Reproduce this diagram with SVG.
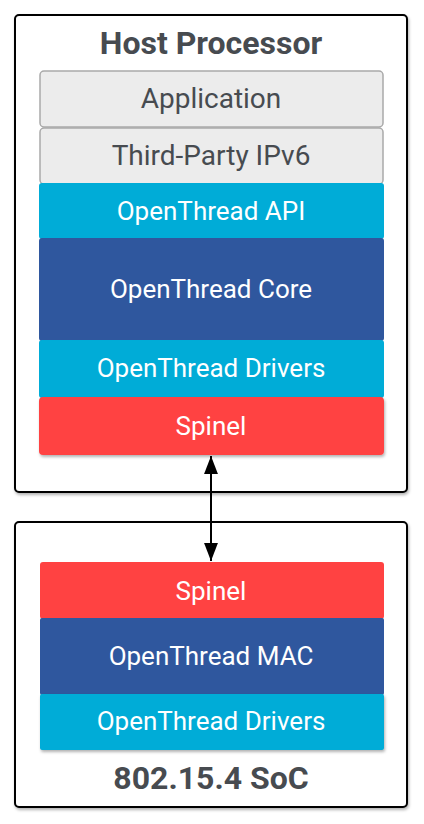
<svg xmlns="http://www.w3.org/2000/svg" width="424" height="824" viewBox="0 0 424 824">
<style>
.outer{fill:#fff;stroke:#000;stroke-width:2}
.gray{fill:#ececec;stroke:#a9a9a9;stroke-width:1.5}
.cyan{fill:#00acd7}
.blue{fill:#2f579e}
.red{fill:#ff4242}
.title{font-family:Roboto,"Liberation Sans",sans-serif;font-weight:bold;font-size:32px;fill:#474b50;text-anchor:middle}
.gt{font-family:Roboto,"Liberation Sans",sans-serif;font-size:28px;fill:#474b50;text-anchor:middle}
.wt{font-family:Roboto,"Liberation Sans",sans-serif;font-size:26px;fill:#fff;text-anchor:middle}
</style>
<defs>
<filter id="sh" x="-10%" y="-10%" width="120%" height="120%">
<feDropShadow dx="1" dy="2" stdDeviation="1.5" flood-color="#000" flood-opacity="0.3"/>
</filter>
<marker id="ah" viewBox="0 0 13 10" refX="13" refY="5" markerWidth="9" markerHeight="7" orient="auto-start-reverse" markerUnits="strokeWidth">
<path d="M0,0 L13,5 L0,10 z" fill="#000"/>
</marker>
</defs>
<g id="host">
<rect class="outer" x="15" y="15" width="392" height="477" rx="4" filter="url(#sh)"/>
<text class="title" x="211" y="54">Host Processor</text>
</g>
<g id="soc">
<rect class="outer" x="15" y="522" width="392" height="285" rx="4" filter="url(#sh)"/>
<text class="title" x="211" y="789">802.15.4 SoC</text>
</g>
<g id="application">
<rect class="gray" x="40" y="71" width="343" height="56" rx="4"/>
<text class="gt" x="211" y="108">Application</text>
</g>
<g id="ipv6">
<rect class="gray" x="40" y="128" width="343" height="56" rx="4"/>
<text class="gt" x="211" y="165">Third-Party IPv6</text>
</g>
<g id="api">
<rect class="cyan" x="39" y="183" width="345" height="56" rx="3"/>
<text class="wt" x="211" y="220">OpenThread API</text>
</g>
<g id="core">
<rect class="blue" x="39" y="238" width="345" height="103" rx="3"/>
<text class="wt" x="211" y="298">OpenThread Core</text>
</g>
<g id="drivers1">
<rect class="cyan" x="39" y="340" width="345" height="58" rx="3"/>
<text class="wt" x="211" y="377">OpenThread Drivers</text>
</g>
<g id="spinel1">
<rect class="red" x="39" y="397" width="345" height="58" rx="4" filter="url(#sh)"/>
<text class="wt" x="211" y="435">Spinel</text>
</g>
<g id="spinel2">
<rect class="red" x="40" y="562" width="344" height="57" rx="3"/>
<text class="wt" x="211" y="600">Spinel</text>
</g>
<g id="mac">
<rect class="blue" x="40" y="618" width="344" height="77" rx="2"/>
<text class="wt" x="211" y="665">OpenThread MAC</text>
</g>
<g id="drivers2">
<rect class="cyan" x="40" y="694" width="344" height="56" rx="2" filter="url(#sh)"/>
<text class="wt" x="211" y="730">OpenThread Drivers</text>
</g>
<g id="connectors">
<line x1="211" y1="456" x2="211" y2="561" stroke="#000" stroke-width="2" marker-start="url(#ah)" marker-end="url(#ah)"/>
</g>
</svg>
